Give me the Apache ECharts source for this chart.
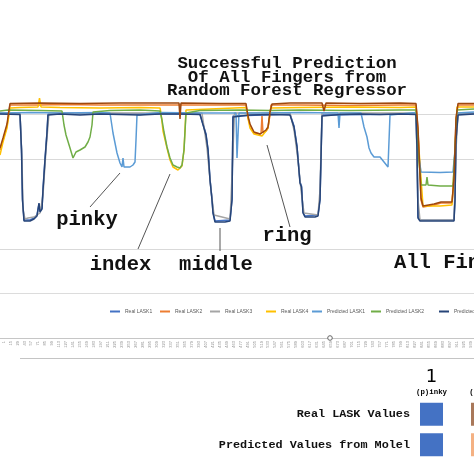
<!DOCTYPE html>
<html><head><meta charset="utf-8">
<script src="https://cdn.jsdelivr.net/npm/echarts@6/dist/echarts.min.js"></script>
<style>html,body{margin:0;padding:0;background:#fff}#c{width:474px;height:474px}</style>
</head><body><div id="c"></div>
<script>
// sample index (t) and signal level (v)
const realLASK1 = [[0,135.5],[40,135],[43,100],[45,50],[48,29],[60,29],[68,31],[74,34],[78,45],[80,38],[84,41],[86,60],[90,90],[94,117],[96,135],[200,135.5],[400,135],[404,134],[412,115],[416,100],[420,70],[424,50],[426,37],[430,28],[460,29],[464,50],[466,133],[580,135],[582,133],[588,123],[594,103],[600,67],[603,63],[606,37],[610,33],[636,34],[640,50],[644,134],[832,135],[834,100],[836,32],[840,29],[908,29],[910,50],[912,110],[916,135],[948,135.5]];
const realLASK2 = [[0,99],[6,109],[14,123],[18,137],[20,144],[80,144],[120,144.5],[200,144],[280,144],[400,144],[492,144],[496,131],[500,124],[508,116],[522,115],[524,133],[526,116],[532,118],[536,121],[540,134],[542,144],[600,144],[700,143.5],[800,144],[832,144],[836,119],[842,49],[846,42],[868,44],[882,46],[904,46],[908,69],[912,129],[916,144],[948,144]];
const realLASK3 = [[0,136],[40,136],[44,89],[46,39],[50,30],[56,31],[68,32],[80,36],[86,54],[92,99],[98,136],[200,136],[404,136],[414,101],[422,59],[428,34],[460,30],[462,49],[466,99],[469,136],[580,136],[588,119],[596,89],[602,59],[608,36],[636,34],[640,59],[644,136],[832,136],[836,49],[840,29],[908,29],[912,99],[916,136],[948,136]];
const realLASK4 = [[0,94],[6,107],[14,121],[20,141],[40,141.5],[76,142],[79,151],[82,142],[120,141.5],[200,141],[280,141.5],[320,141],[322,136],[326,118],[334,101],[340,89],[346,82],[356,79],[364,83],[368,99],[372,139],[374,141],[492,141.5],[496,131],[500,121],[508,115],[524,113],[528,114],[532,118],[536,121],[540,137],[542,141],[600,141.5],[700,142],[800,141.5],[832,142],[838,99],[846,43],[880,43],[904,44],[908,79],[914,142],[948,142]];
const predLASK1 = [[0,136],[60,136.5],[120,136],[200,136.5],[220,136],[226,116],[234,96],[240,86],[244,82],[246,91],[248,82],[260,82],[266,84],[270,87],[272,109],[274,134],[320,136.5],[400,136],[472,136],[474,91],[476,91],[478,136],[520,136],[600,136.5],[676,136],[678,121],[680,136],[722,136],[728,122],[734,112],[738,101],[742,96],[748,92],[760,92],[768,87],[776,82],[778,82],[780,134],[832,136.5],[836,99],[842,77],[880,76.5],[906,77],[910,99],[914,136],[948,137]];
const predLASK2 = [[0,138],[16,139],[80,138.5],[124,138],[128,124],[132,114],[140,101],[146,91],[148,89],[152,97],[160,99],[170,102],[176,107],[180,112],[184,124],[186,137],[220,138.5],[280,139],[320,138],[324,129],[328,117],[334,102],[340,91],[346,84],[354,82],[360,81],[364,84],[368,99],[372,136],[400,138.5],[480,139],[540,138.5],[600,139],[700,138.5],[800,139],[832,139],[836,99],[842,64],[852,64],[854,72],[856,64],[880,63],[906,63],[910,99],[914,139],[948,140]];
const predLASK3 = [[0,135],[40,134.5],[43,99],[45,49],[48,28],[60,28],[68,30],[74,33],[77,35],[78,46],[80,37],[84,40],[86,59],[90,89],[94,116],[96,134],[120,135],[160,134],[200,135],[240,134.5],[280,134],[320,135],[360,135],[400,134.5],[404,133],[412,114],[416,99],[420,69],[424,49],[426,36],[430,27],[450,27],[460,28],[464,49],[466,132],[500,134],[540,134.5],[580,134],[582,132],[588,122],[594,102],[600,66],[603,62],[606,36],[610,32],[630,32],[636,33],[640,49],[644,133],[680,134.5],[720,135],[760,134.5],[800,135],[832,134.5],[834,99],[836,31],[840,28],[880,28],[908,28],[910,49],[912,109],[916,134],[948,135]];
const predLASK4 = [[0,101],[6,111],[14,125],[18,139],[20,145.5],[80,146],[160,145.5],[240,146],[358,146],[360,130],[362,146],[440,145.5],[492,145.5],[496,133],[500,125],[508,117],[520,115],[532,119],[536,122],[540,137],[544,145],[580,146],[644,146],[648,138],[652,146],[720,145.5],[800,146],[832,145.5],[836,121],[842,51],[846,43],[868,45],[882,47],[904,47],[908,71],[912,131],[916,145.5],[948,145.5]];

const seriesNames = ['Real LASK1','Real LASK2','Real LASK3','Real LASK4','Predicted LASK1','Predicted LASK2','Predicted LASK3','Predicted LASK4'];
const seriesColors = ['#4472C4','#ED7D31','#A5A5A5','#FFC000','#5B9BD5','#70AD47','#264478','#9E480E'];
const seriesData = [realLASK1, realLASK2, realLASK3, realLASK4, predLASK1, predLASK2, predLASK3, predLASK4];

const sampleTicks = ['1','15','29','43','57','71','85','99','113','127','141','155','169','183','197','211','225','239','253','267','281','295','309','323','337','351','365','379','393','407','421','435','449','463','477','491','505','519','533','547','561','575','589','603','617','631','645','659','673','687','701','715','729','743','757','771','785','799','813','827','841','855','869','883','897','911','925','939'];

const matrixCols = ['1','2'];
const matrixColNames = ['(p)inky','(r)ing'];
const matrixRows = ['Real LASK Values','Predicted Values from Molel'];
const matrixColors = [['#4472C4','#4472C4'],['#A9785A','#F4B183']];

const legendLeft = [110,160,210,266,312,371,439];
const mono = '"Liberation Mono","Courier New",monospace';

const chart = echarts.init(document.getElementById('c'), null, {renderer:'canvas'});

const lineSeries = seriesNames.map((n,i)=>({
  name:n, type:'line', xAxisIndex:0, yAxisIndex:0, data:seriesData[i],
  symbol:'none', showSymbol:false, silent:true,
  lineStyle:{width:1.5,color:seriesColors[i]}, itemStyle:{color:seriesColors[i]},
  emphasis:{disabled:true}
}));

const cells = [];
matrixCols.forEach((c,ci)=>matrixRows.forEach((r,ri)=>cells.push({value:[ci,ri],itemStyle:{color:matrixColors[ci][ri],opacity:1}})));

chart.setOption({
  animation:false,
  backgroundColor:'#fff',
  grid:[
    {left:0,right:0,top:89,bottom:225,outerBoundsMode:'none',containLabel:false},
    {left:406,top:399,width:102,height:61,outerBoundsMode:'none',containLabel:false}
  ],
  xAxis:[
    {type:'value',gridIndex:0,min:0,max:948,position:'top',show:false},
    {type:'category',gridIndex:1,data:matrixCols,position:'top',
      axisLine:{show:false},axisTick:{show:false},splitLine:{show:false},
      axisLabel:{margin:2,interval:0,
        formatter:(v,i)=>'{n|'+v+'}\n{s|'+matrixColNames[i]+'}',
        rich:{n:{fontSize:18,fontFamily:'DejaVu Sans',color:'#000',lineHeight:20,align:'center'},
              s:{fontSize:7.4,fontFamily:mono,fontWeight:'bold',color:'#000',lineHeight:10,align:'center'}}}},
    {type:'category',gridIndex:0,data:sampleTicks,position:'bottom',offset:89,boundaryGap:true,
      axisLine:{show:true,lineStyle:{color:'#c6c6c6',width:1}},axisTick:{show:false},
      axisLabel:{show:true,interval:0,rotate:90,fontSize:4,color:'#8c8c8c',margin:3}}
  ],
  yAxis:[
    {type:'value',gridIndex:0,min:0,max:160,interval:45,
      axisLine:{show:false},axisTick:{show:false},axisLabel:{show:false},
      splitLine:{show:true,lineStyle:{width:1,color:['#d9d9d9','rgba(0,0,0,0)','#d9d9d9','#d9d9d9','rgba(0,0,0,0)']}}},
    {type:'category',gridIndex:1,data:matrixRows,inverse:true,
      axisLine:{show:false},axisTick:{show:false},splitLine:{show:false},
      axisLabel:{margin:-4,fontSize:11.8,fontFamily:mono,fontWeight:'bold',color:'#111',padding:[5,0,0,0]}}
  ],
  legend: legendLeft.map((x,i)=>({
    data:[seriesNames[i]],left:x,top:309,padding:0,itemWidth:10,itemHeight:2,icon:'rect',
    selectedMode:false,textStyle:{fontSize:5,color:'#595959'}
  })),
  series: lineSeries.concat([{
    type:'scatter',xAxisIndex:1,yAxisIndex:1,symbol:'rect',symbolSize:[23,23],
    itemStyle:{opacity:1},data:cells,silent:true,emphasis:{disabled:true}
  }]),
  graphic:[
    {type:'line',z:100,shape:{x1:0,y1:293.5,x2:474,y2:293.5},style:{stroke:'#dcdcdc',lineWidth:1}},
    {type:'line',z:100,shape:{x1:20,y1:358.5,x2:474,y2:358.5},style:{stroke:'#c4c4c4',lineWidth:1.2}},
    {type:'circle',z:100,shape:{cx:330,cy:338,r:2.3},style:{fill:'#fff',stroke:'#666',lineWidth:1}},
    {type:'text',z:100,x:287,y:77.5,style:{text:'Successful Prediction\nOf All Fingers from\nRandom Forest Regressor',
      fontSize:17.4,fontFamily:mono,fontWeight:'bold',fill:'#111',align:'center',verticalAlign:'middle',lineHeight:13.5}},
    {type:'text',z:100,x:87,y:220,style:{text:'pinky',fontSize:20.5,fontFamily:mono,fontWeight:'bold',fill:'#111',align:'center',verticalAlign:'middle'}},
    {type:'text',z:100,x:120.5,y:265,style:{text:'index',fontSize:20.5,fontFamily:mono,fontWeight:'bold',fill:'#111',align:'center',verticalAlign:'middle'}},
    {type:'text',z:100,x:216,y:265,style:{text:'middle',fontSize:20.5,fontFamily:mono,fontWeight:'bold',fill:'#111',align:'center',verticalAlign:'middle'}},
    {type:'text',z:100,x:287,y:236,style:{text:'ring',fontSize:20.5,fontFamily:mono,fontWeight:'bold',fill:'#111',align:'center',verticalAlign:'middle'}},
    {type:'text',z:100,x:394,y:263,style:{text:'All Fingers',fontSize:20.5,fontFamily:mono,fontWeight:'bold',fill:'#111',align:'left',verticalAlign:'middle'}},
    {type:'line',z:100,shape:{x1:90,y1:207,x2:120,y2:173},style:{stroke:'#555',lineWidth:1}},
    {type:'line',z:100,shape:{x1:138,y1:249,x2:170,y2:174},style:{stroke:'#555',lineWidth:1}},
    {type:'line',z:100,shape:{x1:220,y1:228,x2:220,y2:251},style:{stroke:'#555',lineWidth:1}},
    {type:'line',z:100,shape:{x1:267,y1:145,x2:290,y2:227},style:{stroke:'#555',lineWidth:1}}
  ]
});
</script>
</body></html>
